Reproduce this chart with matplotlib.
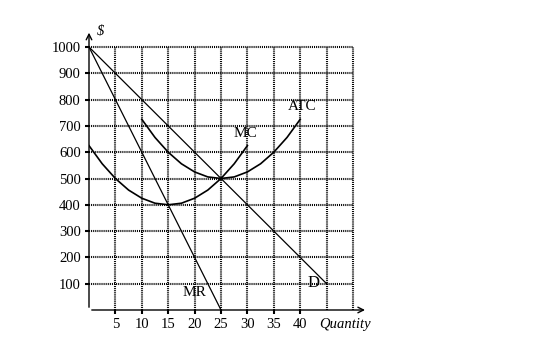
import matplotlib
matplotlib.use("Agg")
import matplotlib.pyplot as plt

# Data
demand_q = [0, 45]
demand_p = [1000, 100]
mr_q = [0, 25]
mr_p = [1000, 0]
mc_q = [0, 2.5, 5, 7.5, 10, 12.5, 15, 17.5, 20, 22.5, 25, 27.5, 30]
mc_p = [625, 556, 500, 456, 425, 406, 400, 406, 425, 456, 500, 556, 625]
atc_q = [10, 12.5, 15, 17.5, 20, 22.5, 25, 27.5, 30, 32.5, 35, 37.5, 40]
atc_p = [725, 656, 600, 556, 525, 506, 500, 506, 525, 556, 600, 656, 725]
x_ticks = [5, 10, 15, 20, 25, 30, 35, 40]
y_ticks = [100, 200, 300, 400, 500, 600, 700, 800, 900, 1000]
grid_x = [5, 10, 15, 20, 25, 30, 35, 40, 45, 50]
grid_y = [100, 200, 300, 400, 500, 600, 700, 800, 900, 1000]

W, H = 554, 343
fig = plt.figure(figsize=(W / 100, H / 100), dpi=100)
x0px, y0px = 89, 310
pxq, pxp = 5.28, 0.263
xmax, ymax = 56, 1080
ax = fig.add_axes([x0px / W, (H - y0px) / H, xmax * pxq / W, ymax * pxp / H])
ax.set_xlim(0, xmax)
ax.set_ylim(0, ymax)
for s in ax.spines.values():
    s.set_visible(False)

font = "Liberation Serif"
dot = (0, (0.5, 0.5))
ax.vlines(grid_x, 0, 1000, colors="black", linestyles=dot, linewidth=1.5, zorder=1)
ax.hlines(grid_y, 0, 50, colors="black", linestyles=dot, linewidth=1.5, zorder=1)

# axes with arrows
ax.annotate("", xy=(52.8, 0), xytext=(0, 0),
            arrowprops=dict(arrowstyle="->", lw=1.0, color="black", mutation_scale=10))
ax.annotate("", xy=(0, 1065), xytext=(0, 0),
            arrowprops=dict(arrowstyle="->", lw=1.0, color="black", mutation_scale=10))

ax.plot(demand_q, demand_p, color="black", linewidth=0.9, zorder=3)
ax.plot(mr_q, mr_p, color="black", linewidth=0.9, zorder=3)
ax.plot(mc_q, mc_p, color="black", linewidth=1.2, zorder=3)
ax.plot(atc_q, atc_p, color="black", linewidth=1.2, zorder=3)

ax.set_xticks(x_ticks)
ax.set_xticklabels([str(v) for v in x_ticks], fontfamily=font, fontsize=10.5)
ax.set_yticks(y_ticks)
ax.set_yticklabels([str(v) for v in y_ticks], fontfamily=font, fontsize=10.5)
ax.tick_params(axis="both", length=3, width=1.5, color="black", pad=3)

ax.text(42.5, 104, "D", fontfamily=font, fontsize=12, ha="center", va="center")
ax.text(20.0, 65, "MR", fontfamily=font, fontsize=11, ha="center", va="center")
ax.text(29.7, 673, "MC", fontfamily=font, fontsize=11, ha="center", va="center")
ax.text(40.3, 772, "ATC", fontfamily=font, fontsize=11, ha="center", va="center")
ax.text(1.5, 1060, "$", fontfamily=font, fontstyle="italic", fontsize=10.5, ha="left", va="center")
ax.text(48.5, -55, "Quantity", fontfamily=font, fontstyle="italic", fontsize=10.5,
        ha="center", va="center")

fig.savefig("out.png", dpi=100)
